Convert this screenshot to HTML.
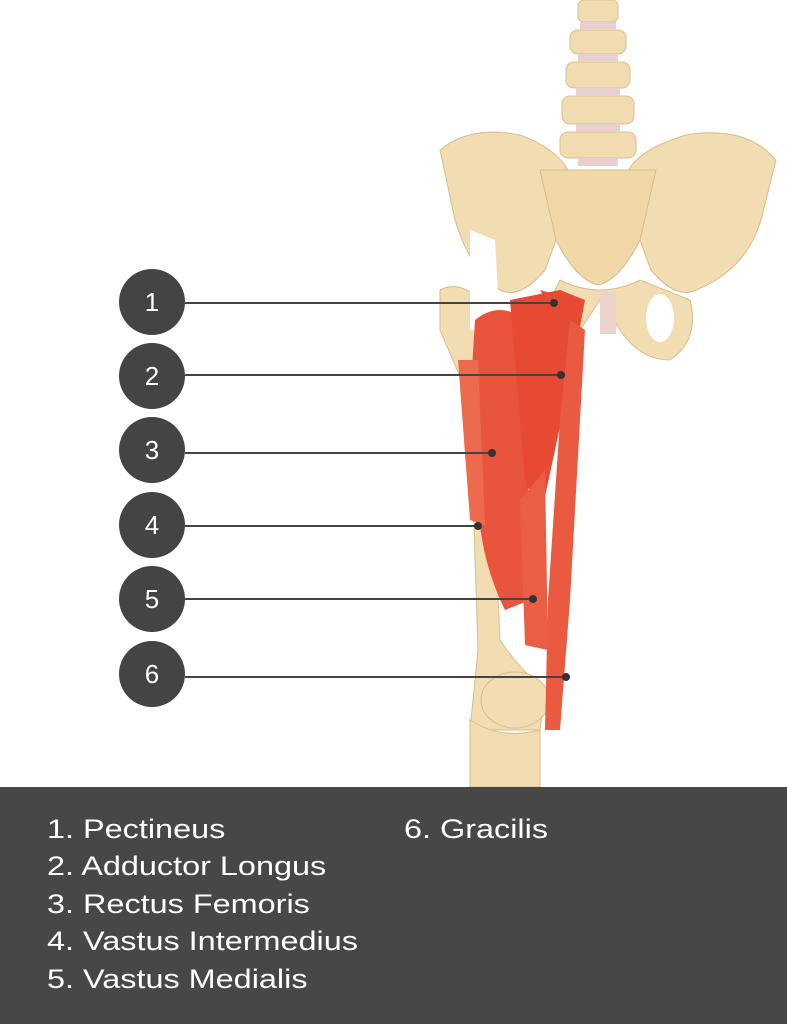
<!DOCTYPE html>
<html><head><meta charset="utf-8"><style>
html,body{margin:0;padding:0;background:#fff;}
body{width:787px;height:1024px;position:relative;overflow:hidden;font-family:"Liberation Sans",sans-serif;}
svg{position:absolute;left:0;top:0;}
.panel{position:absolute;left:0;top:787px;width:787px;height:237px;background:#474747;}
.t{position:absolute;color:#fff;font-size:27px;line-height:1;transform:scaleX(1.2);transform-origin:0 0;white-space:nowrap;}
</style></head><body>
<svg width="787" height="787" viewBox="0 0 787 787">
 <g fill="#f0dcb0" stroke="#d9c08e" stroke-width="1">
  <rect x="578" y="0" width="40" height="22" rx="6"/>
  <rect x="570" y="30" width="56" height="24" rx="8"/>
  <rect x="566" y="62" width="64" height="26" rx="8"/>
  <rect x="562" y="96" width="72" height="28" rx="8"/>
  <rect x="560" y="132" width="76" height="26" rx="8"/>
 </g>
 <g fill="#e8d0d0"><rect x="580" y="22" width="36" height="8"/><rect x="578" y="54" width="40" height="8"/><rect x="576" y="88" width="44" height="8"/><rect x="576" y="124" width="44" height="8"/><rect x="578" y="158" width="40" height="8"/></g>
 <path d="M440 150 Q470 125 520 135 Q560 150 570 175 L570 200 Q560 230 545 270 Q520 300 500 290 Q470 270 455 220 Z" fill="#f2ddb2" stroke="#d6bd8a"/>
 <path d="M776 160 Q746 125 686 135 Q636 150 626 175 L626 200 Q636 230 651 270 Q676 300 696 290 Q746 270 761 220 Z" fill="#f2ddb2" stroke="#d6bd8a"/>
 <path d="M540 170 L656 170 L640 240 Q620 280 598 285 Q576 280 556 240 Z" fill="#f0d8a8" stroke="#d6bd8a"/>
 <path d="M560 280 Q600 300 640 280 L690 300 Q700 340 670 360 Q640 360 620 330 L600 300 L580 330 Q560 350 540 320 Z" fill="#f2ddb2" stroke="#d6bd8a"/>
 <ellipse cx="660" cy="318" rx="14" ry="24" fill="#fff"/>
 <rect x="600" y="292" width="16" height="42" fill="#ecd2cc"/>
 <path d="M440 290 Q455 282 470 292 L485 320 L500 640 Q520 670 545 690 L540 730 L470 730 L478 650 L470 400 L440 330 Z" fill="#f2ddb2" stroke="#d6bd8a"/>
 <ellipse cx="515" cy="700" rx="34" ry="28" fill="#f2ddb2" stroke="#d6bd8a"/>
 <path d="M470 720 Q500 740 540 730 L540 787 L470 787 Z" fill="#f2ddb2" stroke="#d6bd8a"/>
 <path d="M470 230 L495 240 L500 330 L470 330 Z" fill="#fff"/>
 <path d="M475 320 Q500 300 525 320 L530 600 L505 610 Q480 560 478 500 L470 400 Z" fill="#e8553c"/>
 <path d="M458 360 L478 360 L485 525 L470 520 Z" fill="#ee6a4f"/>
 <path d="M510 300 L560 290 L585 300 L570 380 L540 520 L525 480 Z" fill="#e64a32"/>
 <path d="M540 290 L575 300 L560 320 Z" fill="#e54a33"/>
 <path d="M520 500 L545 470 L548 650 L525 645 Z" fill="#eb5e44"/>
 <path d="M570 320 L585 330 L570 600 L560 730 L545 730 L548 600 L560 420 Z" fill="#ea5a40"/>
 <g stroke="#444" stroke-width="2">
  <line x1="185" y1="303" x2="554" y2="303"/>
  <line x1="185" y1="375" x2="561" y2="375"/>
  <line x1="185" y1="453" x2="492" y2="453"/>
  <line x1="185" y1="526" x2="478" y2="526"/>
  <line x1="185" y1="599" x2="533" y2="599"/>
  <line x1="185" y1="677" x2="566" y2="677"/>
 </g>
 <g fill="#333"><circle cx="554" cy="303" r="4"/><circle cx="561" cy="375" r="4"/><circle cx="492" cy="453" r="4"/><circle cx="478" cy="526" r="4"/><circle cx="533" cy="599" r="4"/><circle cx="566" cy="677" r="4"/></g>
 <g fill="#444"><circle cx="152" cy="302" r="33"/><circle cx="152" cy="376" r="33"/><circle cx="152" cy="450" r="33"/><circle cx="152" cy="525" r="33"/><circle cx="152" cy="599" r="33"/><circle cx="152" cy="674" r="33"/></g>
 <g fill="#fff" font-family="Liberation Sans, sans-serif" font-size="26" text-anchor="middle">
  <text x="152" y="311">1</text><text x="152" y="385">2</text><text x="152" y="459">3</text><text x="152" y="534">4</text><text x="152" y="608">5</text><text x="152" y="683">6</text>
 </g>
</svg>
<div class="panel"></div>
<div class="t" style="left:47px;top:816px">1. Pectineus</div>
<div class="t" style="left:47px;top:853px">2. Adductor Longus</div>
<div class="t" style="left:47px;top:891px">3. Rectus Femoris</div>
<div class="t" style="left:47px;top:928px">4. Vastus Intermedius</div>
<div class="t" style="left:47px;top:966px">5. Vastus Medialis</div>
<div class="t" style="left:404px;top:816px">6. Gracilis</div>
</body></html>
